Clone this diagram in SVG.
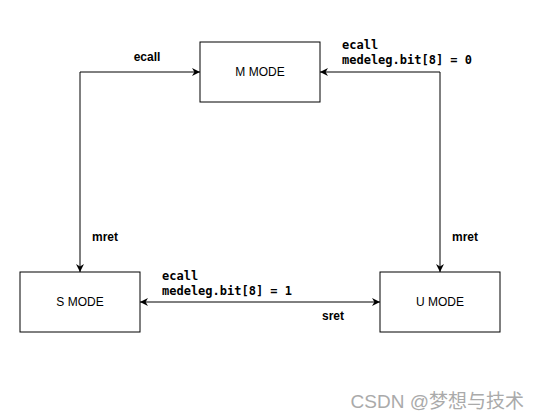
<svg xmlns="http://www.w3.org/2000/svg" width="540" height="420" viewBox="0 0 540 420">
<style>
.box{fill:#fff;stroke:#000;stroke-width:1}
.bt{font-family:"Liberation Sans",Arial,sans-serif;font-size:12px;fill:#000;text-anchor:middle;dominant-baseline:central}
.lb{font-family:"Liberation Sans",Arial,sans-serif;font-size:12px;font-weight:bold;fill:#000}
.mono{font-family:"DejaVu Sans Mono",monospace;font-size:12px;font-weight:bold;fill:#000}
.e{fill:none;stroke:#000;stroke-width:1}
</style>
<defs>
<marker id="ah" viewBox="0 0 10 10" refX="10" refY="5" markerWidth="8" markerHeight="8" markerUnits="userSpaceOnUse" orient="auto-start-reverse">
<path d="M0,0 L10,5 L0,10 L3,5 Z" fill="#000"/>
</marker>
</defs>
<rect width="540" height="420" fill="#fff"/>
<g id="connectors">
<path class="e" d="M80,272 L80,72 L200,72" marker-start="url(#ah)" marker-end="url(#ah)"/>
<path class="e" d="M440,272 L440,72 L320,72" marker-start="url(#ah)" marker-end="url(#ah)"/>
<path class="e" d="M140,302 L380,302" marker-start="url(#ah)" marker-end="url(#ah)"/>
</g>
<g id="labels">
<text class="lb" x="147" y="61" text-anchor="middle">ecall</text>
<text class="mono" x="342" y="49">ecall</text>
<text class="mono" x="342" y="64">medeleg.bit[8] = 0</text>
<text class="lb" x="105" y="241" text-anchor="middle">mret</text>
<text class="lb" x="465" y="241" text-anchor="middle">mret</text>
<text class="mono" x="162" y="280">ecall</text>
<text class="mono" x="162" y="295">medeleg.bit[8] = 1</text>
<text class="lb" x="333" y="320" text-anchor="middle">sret</text>
</g>
<g id="m-mode"><rect class="box" x="200" y="42" width="120" height="60"/><text class="bt" x="260" y="72">M MODE</text></g>
<g id="s-mode"><rect class="box" x="20" y="272" width="120" height="60"/><text class="bt" x="80" y="302">S MODE</text></g>
<g id="u-mode"><rect class="box" x="380" y="272" width="120" height="60"/><text class="bt" x="440" y="302">U MODE</text></g>
<text x="524" y="408" text-anchor="end" font-family="Liberation Sans,'Noto Sans CJK SC',sans-serif" font-size="19" fill="#aaa">CSDN @梦想与技术</text>
</svg>
